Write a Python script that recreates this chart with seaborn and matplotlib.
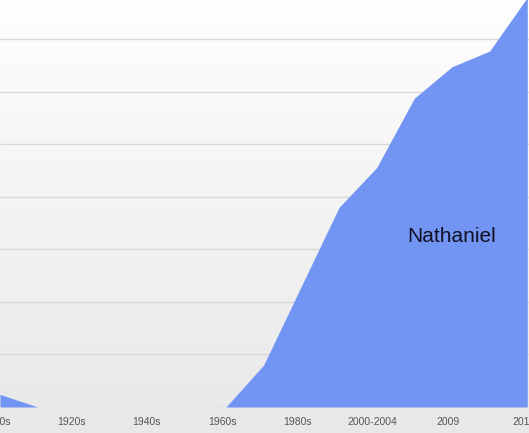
import matplotlib.pyplot as plt
import seaborn as sns
import numpy as np
import pandas as pd
from matplotlib.transforms import ScaledTranslation

# popularity of the name, one value per period
periods = ['1900s', '1910s', '1920s', '1930s', '1940s', '1950s', '1960s', '1970s',
           '1980s', '1990s', '2000-2004', '2005-2008', '2009', '2010', '2011']
values = [12, 0, 0, 0, 0, 0, 0, 40, 115, 190, 228, 294, 324, 339, 390]
name = 'Nathaniel'

df = pd.DataFrame({'pos': np.arange(len(periods)), 'value': values})

sns.set_theme(style='white')
plt.rcParams['font.family'] = ['Liberation Sans', 'DejaVu Sans']

fig = plt.figure(figsize=(5.29, 4.33), dpi=100)
fig.patch.set_facecolor('#e8e8e8')
ax = fig.add_axes([0, 26 / 433, 1, 407 / 433])

ax.set_xlim(0.087, 14.045)
ax.set_ylim(0, 387.6)

# background gradient, white at top to light grey at bottom
grad = np.linspace(0, 1, 256).reshape(-1, 1)
ax.imshow(grad, extent=[0, 1, 0, 1], transform=ax.transAxes, aspect='auto',
          cmap=plt.matplotlib.colors.LinearSegmentedColormap.from_list(
              'bg', ['#fefefe', '#e9e9e9']), origin='upper', zorder=0)

for yv in np.arange(0, 400, 50):
    ax.axhline(yv, color='#d8d8d8', lw=1, zorder=1)

color = '#7295f3'
ax.fill_between(df['pos'], df['value'], color=color, lw=0, zorder=2)
sns.lineplot(data=df, x='pos', y='value', color=color, lw=0, ax=ax, zorder=3)

ax.text(12.0, 162, name, fontsize=15, color='#111122',
        ha='center', va='center', zorder=4)

ax.set_xticks(df['pos'][::2])
ax.set_xticklabels(periods[::2], fontsize=7.5, color='#555555')
ax.tick_params(axis='x', length=0, pad=7)
ax.set_yticks([])
ax.set_xlabel('')
ax.set_ylabel('')
for lab in ax.get_xticklabels():
    lab.set_transform(lab.get_transform() + ScaledTranslation(-0.04, 0, fig.dpi_scale_trans))
for s in ax.spines.values():
    s.set_visible(False)

fig.savefig('out.png', dpi=100, facecolor=fig.get_facecolor())
